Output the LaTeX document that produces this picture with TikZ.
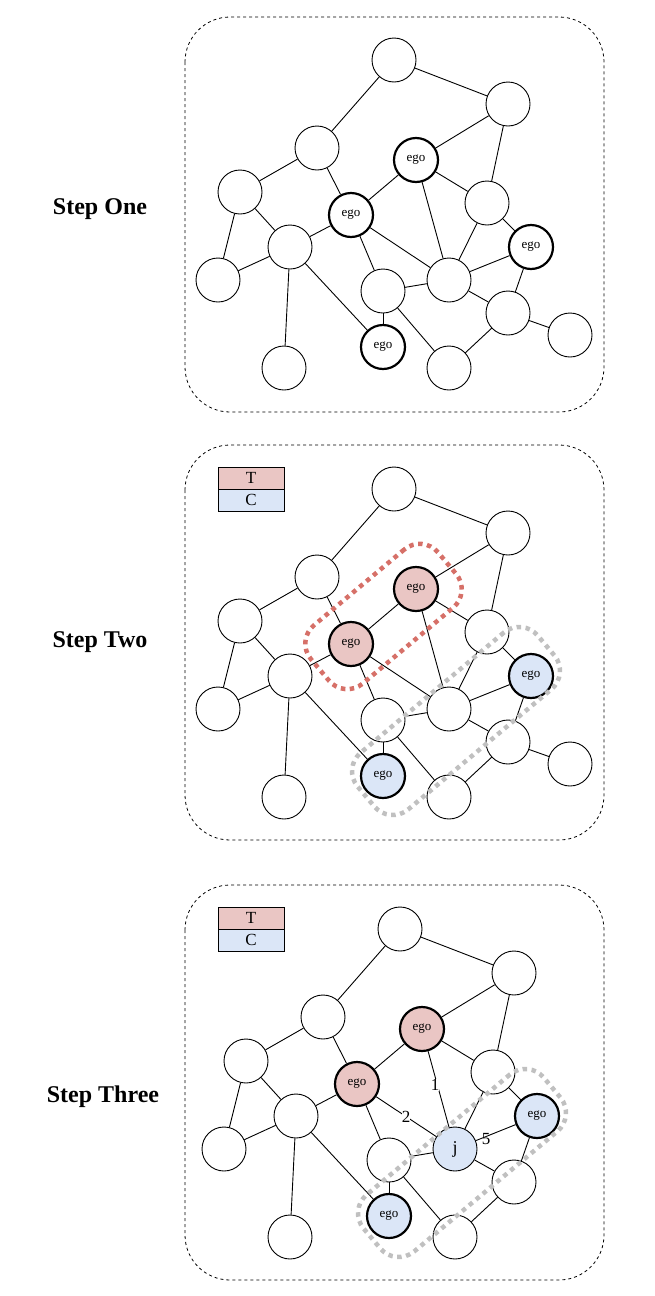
\documentclass[tikz,border=0pt]{standalone}
\usepackage{fontspec}
\setmainfont{Liberation Serif}
\usetikzlibrary{backgrounds}
\definecolor{tred}{RGB}{234,198,196}
\definecolor{tblue}{RGB}{219,230,247}
\definecolor{dred}{RGB}{214,112,104}
\definecolor{dgray}{RGB}{192,192,192}
\tikzset{
 nd/.style={circle,draw,line width=0.9pt,minimum size=44pt,inner sep=0pt,fill=white,font=\fontsize{13}{13}\selectfont},
 eg/.style={nd,line width=2.2pt},
 e12/.style={}, e34/.style={}, jst/.style={},
 ed/.style={line width=0.9pt},
 box/.style={draw,dashed,line width=0.8pt,rounded corners=45pt},
 reg/.style={draw=#1,line width=4.5pt,dash pattern=on 4.5pt off 4.5pt,rounded corners=24pt,rotate=40,inner sep=0pt},
 leg/.style={draw,line width=0.9pt,minimum width=66pt,minimum height=22pt,inner sep=0pt,font=\fontsize{17}{17}\selectfont},
 steplab/.style={font=\fontsize{24}{24}\selectfont\bfseries},
 el/.style={font=\fontsize{17}{17}\selectfont,inner sep=0pt}
}
\newcommand\jt{}
\newcommand\mygraph[1]{%
 \node[nd] (#1A) at (394,-60) {};
 \node[nd] (#1B) at (508,-104) {};
 \node[nd] (#1C) at (317,-148) {};
 \node[nd] (#1D) at (240,-192) {};
 \node[nd] (#1F) at (487,-203) {};
 \node[nd] (#1G) at (290,-247) {};
 \node[nd] (#1H) at (218,-280) {};
 \node[nd] (#1I) at (383,-291) {};
 \node[nd,jst] (#1J) at (449,-280) {\jt};
 \node[nd] (#1K) at (508,-313) {};
 \node[nd] (#1M) at (284,-368) {};
 \node[nd] (#1N) at (449,-368) {};
 \node[eg,e12] (#1E1) at (416,-160) {ego};
 \node[eg,e12] (#1E2) at (351,-215) {ego};
 \node[eg,e34] (#1E3) at (531,-247) {ego};
 \node[eg,e34] (#1E4) at (383,-347) {ego};
 \begin{scope}[on background layer]
 \foreach \a/\b in {A/C,A/B,B/E1,B/F,C/D,C/E2,D/G,D/H,H/G,G/M,G/E4,E2/G,E1/E2,E1/F,E1/J,F/J,F/E3,E2/I,E2/J,I/J,I/E4,I/N,J/E3,J/K,E3/K,K/N}
  \draw[ed] (#1\a) -- (#1\b);
 \end{scope}
}
\begin{document}
\begin{tikzpicture}[x=1pt,y=1pt]
\useasboundingbox (0,0) rectangle (654,-1296);
% boxes
\draw[box] (185,-17) rectangle (604,-412);
\draw[box] (185,-445) rectangle (604,-840);
\draw[box] (185,-885) rectangle (604,-1280);
\node[steplab] (s1) at (100,-209) {Step One};
\node[steplab] (s2) at (100,-642) {Step Two};
\node[steplab] (s3) at (103,-1097) {Step Three};
% panel 1
\begin{scope}
 \mygraph{p}
 \node[nd] (pL) at (570,-335) {};
 \begin{scope}[on background layer]\draw[ed] (pK) -- (pL);\end{scope}
\end{scope}
% panel 2
\node[leg,fill=tred] (t2) at (251,-478) {T};
\node[leg,fill=tblue] (c2) at (251,-500) {C};
\begin{scope}[yshift=-429pt,e12/.style={fill=tred},e34/.style={fill=tblue}]
 \mygraph{q}
 \node[nd] (qL) at (570,-335) {};
 \begin{scope}[on background layer]\draw[ed] (qK) -- (qL);\end{scope}
 \node[reg=dred,minimum width=166pt,minimum height=76pt] (qr) at (383.5,-187.5) {};
 \node[reg=dgray,minimum width=235pt,minimum height=74pt] (qg) at (456,-292) {};
\end{scope}
% panel 3
\node[leg,fill=tred] (t3) at (251,-918) {T};
\node[leg,fill=tblue] (c3) at (251,-940) {C};
\begin{scope}[xshift=6pt,yshift=-869pt,e12/.style={fill=tred},e34/.style={fill=tblue},
  jst/.style={fill=tblue,font=\fontsize{18}{18}\selectfont}]
 \renewcommand\jt{j}
 \mygraph{r}
 \node[reg=dgray,minimum width=235pt,minimum height=74pt] (rg) at (456,-294) {};
\end{scope}
\node[el,fill=white] (l1) at (435,-1085) {1};
\node[el,fill=white] (l2) at (406,-1117) {2};
\node[el] (l5) at (486,-1139) {5};
\end{tikzpicture}
\end{document}
